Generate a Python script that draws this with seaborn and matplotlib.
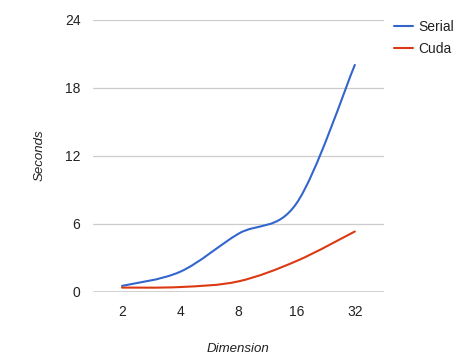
import matplotlib
matplotlib.use("Agg")
import matplotlib.pyplot as plt
from matplotlib.path import Path
from matplotlib.patches import PathPatch
from matplotlib.lines import Line2D
import seaborn as sns
import numpy as np

# chart values
dimensions = ["2", "4", "8", "16", "32"]
serial_seconds = [0.5, 1.75, 5.1, 7.8, 20.0]
cuda_seconds = [0.35, 0.4, 0.9, 2.7, 5.3]
series_names = ["Serial", "Cuda"]
series_colors = ["#3366cc", "#dc3912"]
y_ticks = [0, 6, 12, 18, 24]

sns.set_style("white")
plt.rcParams["font.family"] = ["Liberation Sans", "DejaVu Sans"]


# smooth curve through the points (like the "function" curve type)
def smooth_path(xs, ys):
    pts = np.column_stack([xs, ys]).astype(float)
    n = len(pts)
    verts = [pts[0]]
    codes = [Path.MOVETO]
    for i in range(n - 1):
        prev = pts[max(i - 1, 0)]
        nxt = pts[min(i + 2, n - 1)]
        c1 = pts[i] + (pts[i + 1] - prev) / 6
        c2 = pts[i + 1] - (nxt - pts[i]) / 6
        verts += [c1, c2, pts[i + 1]]
        codes += [Path.CURVE4] * 3
    return Path(verts, codes)


fig = plt.figure(figsize=(4.74, 3.56), dpi=100)
ax = fig.add_axes([0.196, 0.181, 0.614, 0.764])

positions = np.arange(len(dimensions))
for name, values, color in zip(series_names, [serial_seconds, cuda_seconds], series_colors):
    patch = PathPatch(smooth_path(positions, values), facecolor="none",
                      edgecolor=color, lw=1.5, capstyle="round", zorder=3)
    ax.add_patch(patch)

ax.set_xlim(-0.5, len(dimensions) - 0.5)
ax.set_ylim(y_ticks[0], y_ticks[-1])
ax.set_xticks(positions)
ax.set_xticklabels(dimensions)
ax.set_yticks(y_ticks)
ax.grid(axis="y", color="#cccccc", lw=0.9)
ax.axhline(0, color="#333333", lw=1.0, zorder=2)
sns.despine(ax=ax, left=True, bottom=True)
ax.tick_params(length=0, labelsize=10, colors="#222222", pad=10)
ax.tick_params(axis="y", pad=9)

ax.set_xlabel("Dimension", style="italic", fontsize=9.5, color="#222222", labelpad=17)
ax.set_ylabel("Seconds", style="italic", fontsize=9.5, color="#222222", labelpad=14)

handles = [Line2D([], [], color=c, lw=1.5) for c in series_colors]
ax.legend(handles, series_names, loc="upper left", bbox_to_anchor=(1.02, 1.015),
          frameon=False, fontsize=10, handlelength=1.4, handletextpad=0.35,
          labelspacing=0.62, borderaxespad=0, borderpad=0.3, labelcolor="#222222")

fig.savefig("out.png", dpi=100)
